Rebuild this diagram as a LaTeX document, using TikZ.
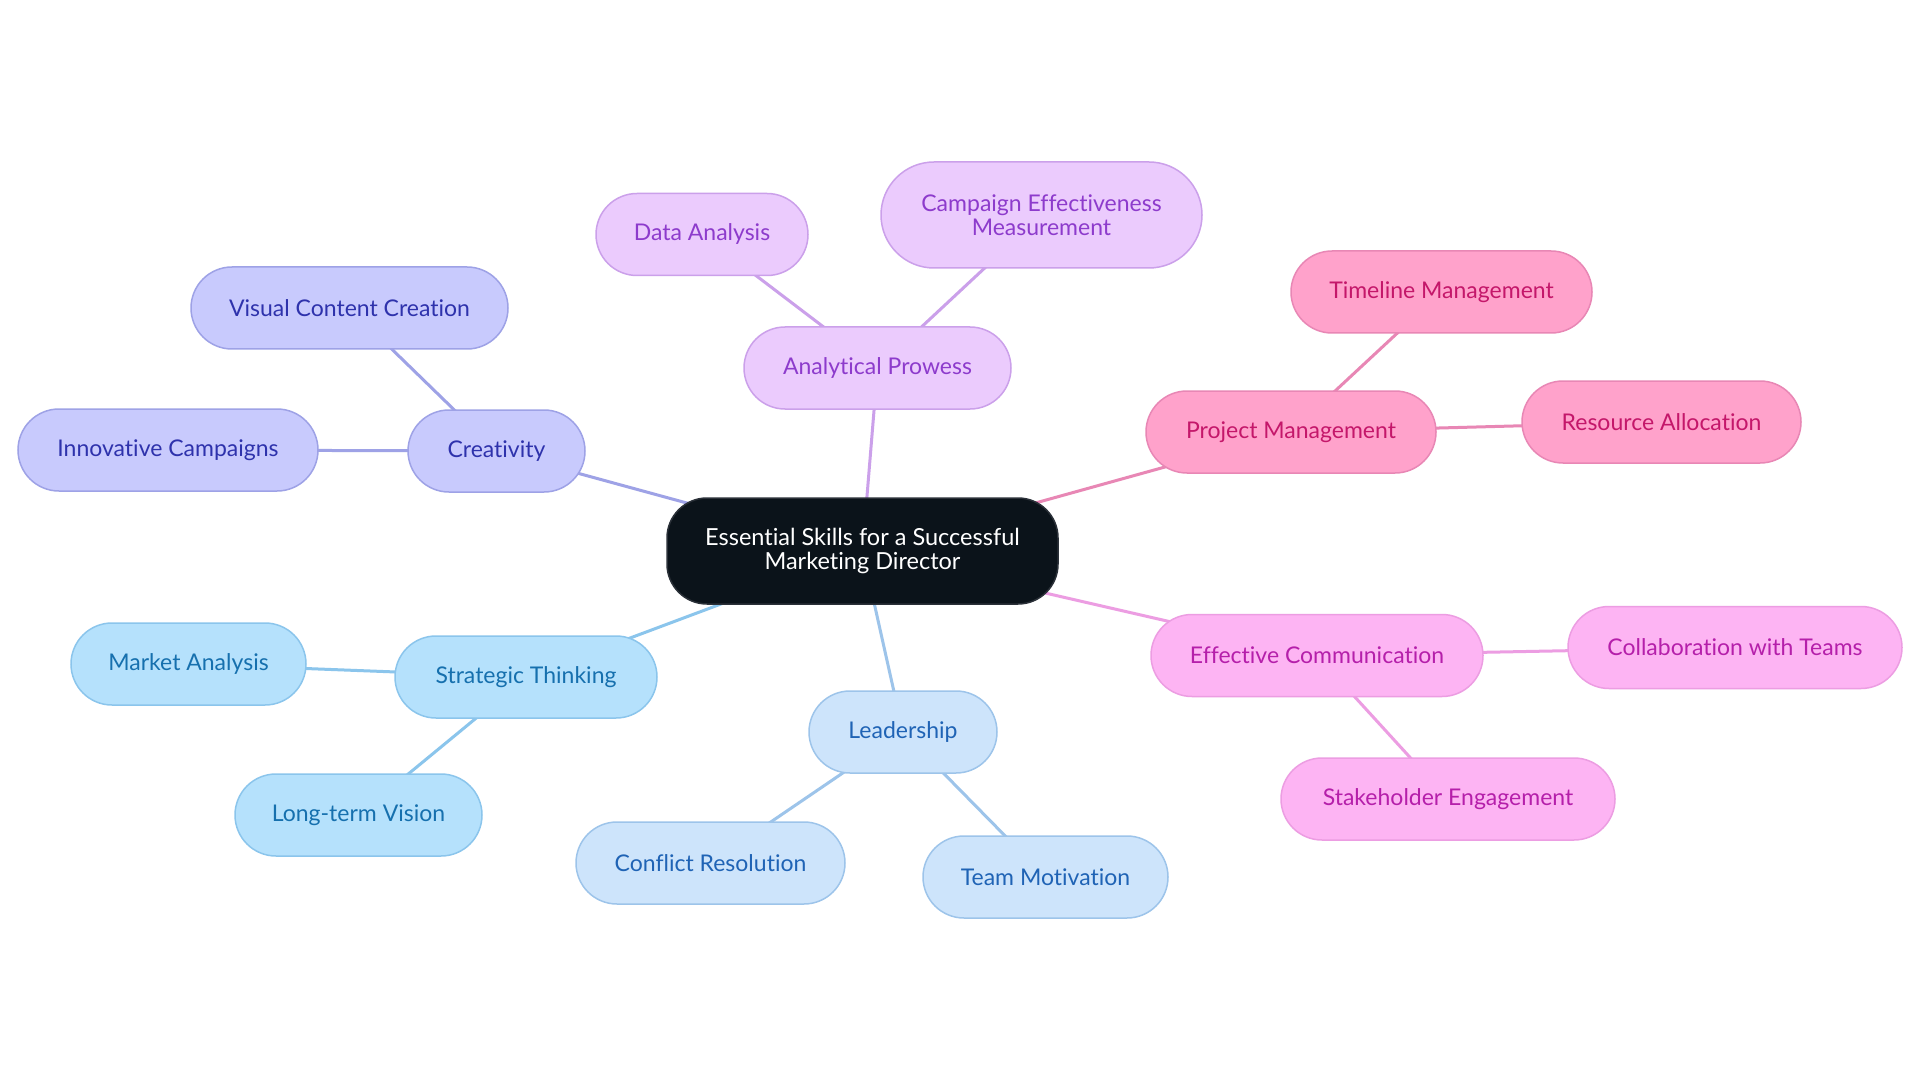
\documentclass[tikz,border=0pt]{standalone}
\usepackage{fontspec}
\setmainfont{Lato}[Ligatures={NoCommon}]
\usetikzlibrary{shapes.misc,backgrounds}
\definecolor{creF}{HTML}{C8CAFD}\definecolor{creB}{HTML}{9EA2E6}\definecolor{creT}{HTML}{2E32AC}
\definecolor{anaF}{HTML}{EBCBFD}\definecolor{anaB}{HTML}{CBA0EA}\definecolor{anaT}{HTML}{8D3BCC}
\definecolor{proF}{HTML}{FFA2CB}\definecolor{proB}{HTML}{E887B5}\definecolor{proT}{HTML}{C4176A}
\definecolor{comF}{HTML}{FDB4F3}\definecolor{comB}{HTML}{EC9DE2}\definecolor{comT}{HTML}{B51FAA}
\definecolor{strF}{HTML}{B5E1FC}\definecolor{strB}{HTML}{8BC5EC}\definecolor{strT}{HTML}{1670AE}
\definecolor{leaF}{HTML}{CDE4FB}\definecolor{leaB}{HTML}{9DC4EA}\definecolor{leaT}{HTML}{1F63B5}
\definecolor{cenF}{HTML}{0B131A}\definecolor{cenB}{HTML}{2A3038}
\tikzset{
  base/.style={rounded rectangle, draw, line width=1.5pt, minimum height=82pt, inner sep=0pt,
    align=center, font=\fontsize{23}{24}\selectfont},
  cre/.style={base, fill=creF, draw=creB, text=creT},
  ana/.style={base, fill=anaF, draw=anaB, text=anaT},
  pro/.style={base, fill=proF, draw=proB, text=proT},
  com/.style={base, fill=comF, draw=comB, text=comT},
  str/.style={base, fill=strF, draw=strB, text=strT},
  lea/.style={base, fill=leaF, draw=leaB, text=leaT},
  link/.style={line width=3pt},
}
\begin{document}
\begin{tikzpicture}[x=1pt,y=1pt]
\useasboundingbox (0,0) rectangle (1920,-1083);
\node[rectangle, rounded corners=40pt, fill=cenF, draw=cenB, line width=1.5pt, text=white,
  minimum width=391pt, minimum height=106pt, inner sep=0pt, align=center,
  font=\fontsize{23.5}{24}\selectfont] (cen) at (862.5,-551) {Essential Skills for a Successful\\Marketing Director};

\node[cre, minimum width=177pt] (creat) at (496.5,-451) {Creativity};
\node[cre, minimum width=317pt] (visual) at (349.5,-308) {Visual Content Creation};
\node[cre, minimum width=300pt] (innov) at (168,-450) {Innovative Campaigns};

\node[ana, minimum width=267pt] (anal) at (877.5,-368) {Analytical Prowess};
\node[ana, minimum width=212pt] (data) at (702,-234.5) {Data Analysis};
\node[ana, minimum width=321pt, minimum height=106pt] (camp) at (1041.5,-215) {Campaign Effectiveness\\Measurement};

\node[pro, minimum width=290pt] (proj) at (1291,-432) {Project Management};
\node[pro, minimum width=301pt] (time) at (1441.5,-292) {Timeline Management};
\node[pro, minimum width=279pt] (res) at (1661.5,-422) {Resource Allocation};

\node[com, minimum width=332pt] (comm) at (1317,-655.5) {Effective Communication};
\node[com, minimum width=334pt] (collab) at (1735,-647.5) {Collaboration with Teams};
\node[com, minimum width=334pt] (stake) at (1448,-799) {Stakeholder Engagement};

\node[str, minimum width=262pt] (strat) at (526,-677) {Strategic Thinking};
\node[str, minimum width=235pt] (market) at (188.5,-664) {Market Analysis};
\node[str, minimum width=247pt] (long) at (358.5,-815) {Long-term Vision};

\node[lea, minimum width=188pt] (lead) at (903,-732) {Leadership};
\node[lea, minimum width=269pt] (conf) at (710.5,-863) {Conflict Resolution};
\node[lea, minimum width=245pt] (team) at (1045.5,-877) {Team Motivation};

\begin{pgfonlayer}{background}
\fill[white] (0,0) rectangle (1920,-1083);
\draw[link, creB] (cen.center) -- (creat.center);
\draw[link, creB] (creat.center) -- (visual.center);
\draw[link, creB] (creat.center) -- (innov.center);
\draw[link, anaB] (cen.center) -- (anal.center);
\draw[link, anaB] (anal.center) -- (data.center);
\draw[link, anaB] (anal.center) -- (camp.center);
\draw[link, proB] (cen.center) -- (proj.center);
\draw[link, proB] (proj.center) -- (time.center);
\draw[link, proB] (proj.center) -- (res.center);
\draw[link, comB] (cen.center) -- (comm.center);
\draw[link, comB] (comm.center) -- (collab.center);
\draw[link, comB] (comm.center) -- (stake.center);
\draw[link, strB] (cen.center) -- (strat.center);
\draw[link, strB] (strat.center) -- (market.center);
\draw[link, strB] (strat.center) -- (long.center);
\draw[link, leaB] (cen.center) -- (lead.center);
\draw[link, leaB] (lead.center) -- (conf.center);
\draw[link, leaB] (lead.center) -- (team.center);
\end{pgfonlayer}
\end{tikzpicture}
\end{document}
